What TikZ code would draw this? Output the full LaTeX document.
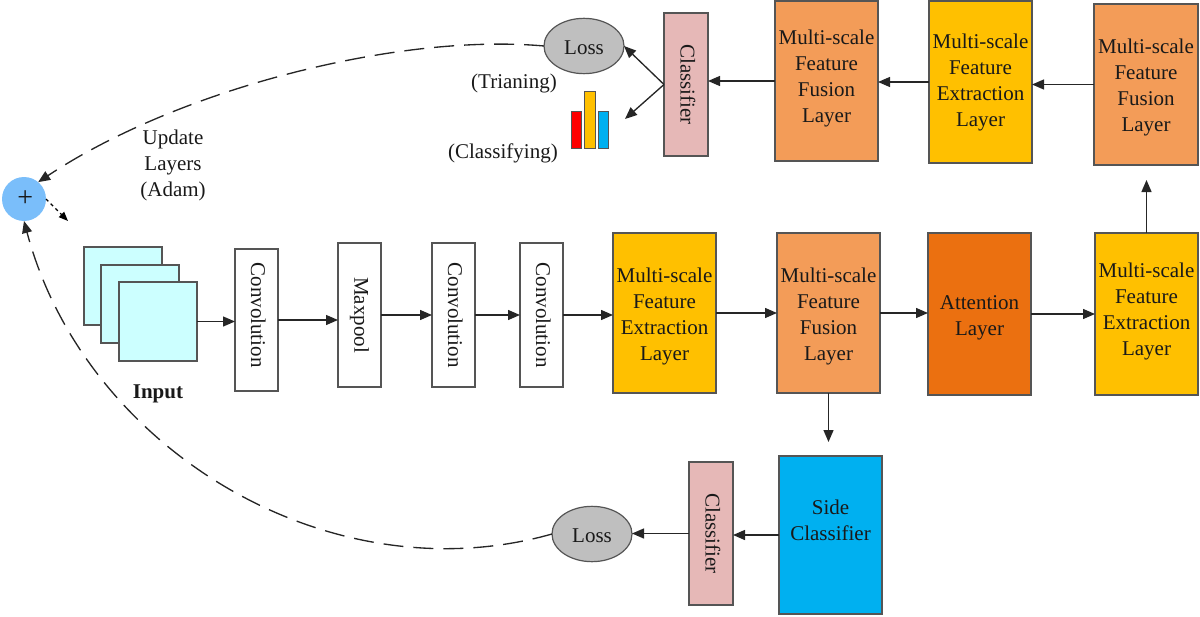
\documentclass[tikz,border=0pt]{standalone}
\usepackage{fontspec}
\setmainfont{Liberation Serif}
\usetikzlibrary{arrows.meta,shapes.geometric}
\definecolor{fus}{HTML}{F39C58}
\definecolor{ext}{HTML}{FFC000}
\definecolor{att}{HTML}{EB7010}
\definecolor{sidec}{HTML}{00B0F0}
\definecolor{clsf}{HTML}{E6B8B7}
\definecolor{inp}{HTML}{CCFFFF}
\definecolor{circ}{HTML}{7ABEFA}
\definecolor{lossc}{HTML}{BFBFBF}
\definecolor{edge}{HTML}{555555}
\newlength{\wdtmp}\newlength{\httmp}
\newcommand{\bx}[7]{%
  \pgfmathsetlength{\wdtmp}{(#4-#2)*0.75pt}\pgfmathsetlength{\httmp}{(#5-#3)*0.75pt}%
  \node[boxbase,#6,minimum width=\wdtmp,minimum height=\httmp] (#1) at ({(#2+#4)/2},{(#3+#5)/2}) {#7};}
% vertical nudges for the text held inside a box
\newcommand{\dnpad}[1]{\rule{0pt}{\dimexpr 11pt+2\dimexpr #1\relax\relax}}
\newcommand{\uppad}[1]{\rule[-\dimexpr 3.5pt+2\dimexpr #1\relax\relax]{0pt}{0pt}}
% rotated text: #1 = extra length at its end (moves it up), then the text
\newcommand{\rtext}[2]{\rotatebox{-90}{\rule[-3pt]{0pt}{0pt}#2\hspace{#1}}}
\tikzset{
  txt/.style={font=\fontsize{15.75}{19.5}\selectfont,align=center,inner sep=0pt,text=black!90},
  boxbase/.style={draw=edge,line width=0.9pt,rectangle,inner sep=0pt,outer sep=0pt,txt},
  fusion/.style={fill=fus},
  extract/.style={fill=ext},
  attn/.style={fill=att},
  side/.style={fill=sidec},
  classbox/.style={fill=clsf},
  plain/.style={fill=white},
  inputbox/.style={fill=inp},
  bar/.style={draw=edge,line width=0.6pt},
  lossnode/.style={ellipse,draw=edge,line width=0.9pt,fill=lossc,inner sep=0pt,outer sep=0pt,minimum width=60pt,minimum height=41.5pt,txt},
  conn/.style={draw=black!85,line width=1pt,-{Triangle[length=9pt,width=7.5pt]}},
  dashconn/.style={draw=black!85,line width=1pt,dash pattern=on 15pt off 7.5pt,-{Triangle[length=9pt,width=7.5pt]}},
  dotconn/.style={draw=black,line width=1pt,dash pattern=on 2.5pt off 2.5pt,-{Triangle[length=7pt,width=5.5pt]}},
}
\begin{document}
\begin{tikzpicture}[x=0.75pt,y=-0.75pt]
\useasboundingbox (0,0) rectangle (1200,617);
% top row
\bx{cls1}{664}{13}{708}{156}{classbox}{\rtext{0pt}{Classifier}}
\bx{fus2}{775}{1}{878}{161}{fusion}{Multi-scale\\Feature\\Fusion\\Layer\uppad{1.5pt}}
\bx{ext2}{929}{1}{1032}{163}{extract}{Multi-scale\\Feature\\Extraction\\Layer}
\bx{fus3}{1094}{4}{1198}{165}{fusion}{\dnpad{2.25pt}Multi-scale\\Feature\\Fusion\\Layer}
% middle row
\bx{in1}{84}{247}{162}{325}{inputbox}{}
\bx{in2}{101}{265}{179}{343}{inputbox}{}
\bx{in3}{119}{282}{197}{361}{inputbox}{}
\bx{conv1}{235}{249}{278}{391}{plain}{\rtext{7.5pt}{Convolution}}
\bx{pool}{338}{243}{381}{387}{plain}{\rotatebox{-90}{Maxpool}}
\bx{conv2}{432}{243}{475}{387}{plain}{\rtext{0pt}{Convolution}}
\bx{conv3}{520}{243}{563}{387}{plain}{\rtext{0pt}{Convolution}}
\bx{ext1}{613}{233}{716}{393}{extract}{\dnpad{2.25pt}Multi-scale\\Feature\\Extraction\\Layer}
\bx{fus1}{777}{233}{880}{393}{fusion}{\dnpad{2.25pt}Multi-scale\\Feature\\Fusion\\Layer}
\bx{att1}{928}{233}{1031}{395}{attn}{\dnpad{2.25pt}Attention\\Layer}
\bx{ext3}{1095}{233}{1198}{395}{extract}{Multi-scale\\Feature\\Extraction\\Layer\uppad{1.5pt}}
% bottom row
\bx{sidecl}{779}{456}{882}{614}{side}{Side\\Classifier\rule[-22.5pt]{0pt}{0pt}}
\bx{cls2}{689}{462}{733}{605}{classbox}{\rtext{0pt}{Classifier}}
\node[lossnode] (loss1) at (584,46) {\dnpad{0.75pt}Loss};
\node[lossnode] (loss2) at (592,534) {\dnpad{0.75pt}Loss};
% sum node
\node[circle,fill=circ,draw=none,minimum size=33pt,inner sep=0pt,outer sep=0pt,txt,font=\fontsize{21}{21}\selectfont] (sum) at (24,199) {\hspace{2pt}+};
% bars
\bx{barr}{571}{111}{581}{148}{bar,fill=red}{}
\bx{bary}{584}{91}{595}{148}{bar,fill=ext}{}
\bx{barb}{598}{111}{608}{148}{bar,fill=sidec}{}
% labels
\node[txt] (lblupd) at (173,165) {Update\\Layers\\(Adam)};
\node[txt,anchor=east] (lbltr) at (557,83) {(Trianing)};
\node[txt,anchor=east] (lblcl) at (558,153) {(Classifying)};
\node[txt,font=\fontsize{15.75}{19.5}\selectfont\bfseries] (lblin) at (158,394) {Input};
% free ends
\coordinate (clsfork) at (cls1.west);
\coordinate (barsend) at (625,119);
\coordinate (dotend) at (68,221);
% arrows
\draw[conn] (fus2.west) -- (cls1.east |- fus2.west);
\draw[conn] (ext2.west) -- (fus2.east |- ext2.west);
\draw[conn] (fus3.west) -- (ext2.east |- fus3.west);
\draw[conn] (clsfork) -- (loss1.east);
\draw[conn] (clsfork) -- (barsend);
\draw[conn] (in3.east) -- (conv1.west |- in3.east);
\draw[conn] (conv1.east) -- (pool.west |- conv1.east);
\draw[conn] (pool.east) -- (conv2.west);
\draw[conn] (conv2.east) -- (conv3.west);
\draw[conn] (conv3.east) -- (ext1.west |- conv3.east);
\draw[conn] (ext1.east) -- (fus1.west);
\draw[conn] (fus1.east) -- (att1.west |- fus1.east);
\draw[conn] (att1.east) -- (ext3.west |- att1.east);
\draw[conn] (ext3.north) -- ++(0,-53);
\draw[conn] (fus1.south) -- ++(0,49);
\draw[conn] (sidecl.west) -- (cls2.east |- sidecl.west);
\draw[conn] (cls2.west) -- (loss2.east |- cls2.west);
\draw[dashconn] (loss1.west) .. controls (400,33) and (180,88) .. (sum.50);
\draw[dashconn] (loss2.west) .. controls (330,597) and (85,450) .. (sum.south);
\draw[dotconn] (sum.east) -- (dotend);
\end{tikzpicture}
\end{document}
